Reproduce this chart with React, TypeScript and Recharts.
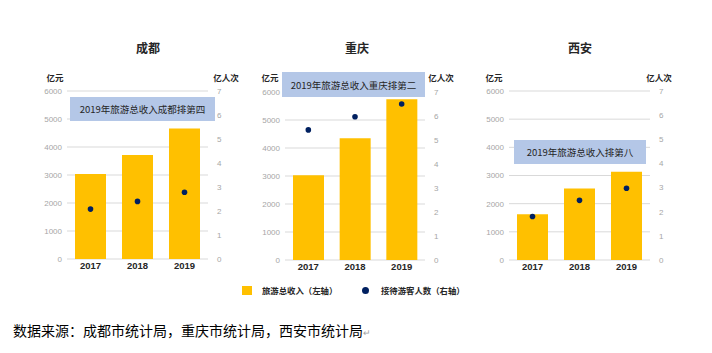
import React from 'react';
import {
  ComposedChart,
  Bar,
  Scatter,
  XAxis,
  YAxis,
  CartesianGrid,
} from 'recharts';

// years and values
const years = ['2017', '2018', '2019'];

const chengduRevenue = [3036, 3712, 4664];
const chengduVisitors = [2.08, 2.4, 2.78];

const chongqingRevenue = [3030, 4344, 5740];
const chongqingVisitors = [5.42, 5.97, 6.5];

const xianRevenue = [1625, 2540, 3130];
const xianVisitors = [1.8, 2.47, 2.97];

const leftTicks = [0, 1000, 2000, 3000, 4000, 5000, 6000];
const rightTicks = [0, 1, 2, 3, 4, 5, 6, 7];

const panels = [
  {
    title: '成都',
    note: '2019年旅游总收入成都排第四',
    revenue: chengduRevenue,
    visitors: chengduVisitors,
    plot: { x0: 67, x1: 208, y0: 91, y1: 259 },
    titleX: 148,
    leftUnitX: 55,
    rightUnitX: 226,
    box: { left: 70, top: 97, width: 145, height: 24 },
  },
  {
    title: '重庆',
    note: '2019年旅游总收入重庆排第二',
    revenue: chongqingRevenue,
    visitors: chongqingVisitors,
    plot: { x0: 285, x1: 425, y0: 92, y1: 260 },
    titleX: 357,
    leftUnitX: 270,
    rightUnitX: 441,
    box: { left: 282, top: 72, width: 143, height: 25 },
  },
  {
    title: '西安',
    note: '2019年旅游总收入排第八',
    revenue: xianRevenue,
    visitors: xianVisitors,
    plot: { x0: 509, x1: 650, y0: 91, y1: 260 },
    titleX: 580,
    leftUnitX: 494,
    rightUnitX: 659,
    box: { left: 514, top: 140, width: 132, height: 24 },
  },
];

const CJK = '"Noto Sans CJK SC", "Liberation Sans", sans-serif';
const NUM = '"Liberation Sans", Arial, sans-serif';
const BAR = '#FFC000';
const DOT = '#002060';

const CH_W = 712;
const CH_H = 300;
const AXIS_W = 40;
const XAXIS_H = 20;

function Dot(props: any) {
  if (props.cx == null || props.cy == null) return null;
  return <circle cx={props.cx} cy={props.cy} r={2.8} fill={DOT} />;
}

function Panel({ p }: { p: (typeof panels)[number] }) {
  const data = years.map((y, i) => ({
    year: y,
    revenue: p.revenue[i],
    visitors: p.visitors[i],
  }));
  const { x0, x1, y0, y1 } = p.plot;

  return (
    <ComposedChart
      width={CH_W}
      height={CH_H}
      data={data}
      style={{ position: 'absolute', left: 0, top: 0 }}
      margin={{
        top: y0,
        bottom: CH_H - y1 - XAXIS_H,
        left: x0 - AXIS_W,
        right: CH_W - x1 - AXIS_W,
      }}
    >
      <CartesianGrid
        yAxisId="left"
        vertical={false}
        stroke="#d9d9d9"
        strokeWidth={1}
      />
      <XAxis
        dataKey="year"
        height={XAXIS_H}
        axisLine={false}
        tickLine={false}
        tickSize={1}
        tickMargin={2}
        tick={{ fontSize: 9.5, fill: '#262626', fontFamily: NUM, fontWeight: 600 }}
      />
      <YAxis
        yAxisId="left"
        width={AXIS_W}
        domain={[0, 6000]}
        ticks={leftTicks}
        axisLine={false}
        tickLine={false}
        tickSize={3}
        tickMargin={2}
        tick={{ fontSize: 8, fill: '#a6a6a6', fontFamily: NUM }}
      />
      <YAxis
        yAxisId="right"
        orientation="right"
        width={AXIS_W}
        domain={[0, 7]}
        ticks={rightTicks}
        axisLine={false}
        tickLine={false}
        tickSize={7}
        tickMargin={2}
        tick={{ fontSize: 8, fill: '#a6a6a6', fontFamily: NUM }}
      />
      <Bar
        yAxisId="left"
        dataKey="revenue"
        fill={BAR}
        barSize={31}
        isAnimationActive={false}
      />
      <Scatter
        yAxisId="right"
        dataKey="visitors"
        fill={DOT}
        shape={<Dot />}
        isAnimationActive={false}
      />
    </ComposedChart>
  );
}

const centered = (x: number, y: number): React.CSSProperties => ({
  position: 'absolute',
  left: x,
  top: y,
  transform: 'translate(-50%, -50%)',
  whiteSpace: 'nowrap',
});

export default function App() {
  return (
    <div
      style={{
        position: 'absolute',
        left: 0,
        top: 0,
        width: 712,
        height: 353,
        background: '#fff',
        overflow: 'hidden',
        fontFamily: CJK,
      }}
    >
      {panels.map((p) => (
        <Panel key={p.title} p={p} />
      ))}

      {panels.map((p) => (
        <React.Fragment key={p.title + '-text'}>
          <div style={{ ...centered(p.titleX, 47), fontSize: 12, fontWeight: 700, color: '#262626' }}>
            {p.title}
          </div>
          <div style={{ ...centered(p.leftUnitX, 77), fontSize: 8.5, fontWeight: 700, color: '#262626' }}>
            亿元
          </div>
          <div style={{ ...centered(p.rightUnitX, 77), fontSize: 8.5, fontWeight: 700, color: '#262626' }}>
            亿人次
          </div>
          <div
            style={{
              position: 'absolute',
              left: p.box.left,
              top: p.box.top,
              width: p.box.width,
              height: p.box.height,
              background: '#B4C7E7',
              display: 'flex',
              alignItems: 'center',
              justifyContent: 'center',
              fontSize: 9.5,
              color: '#262626',
              whiteSpace: 'nowrap',
            }}
          >
            {p.note}
          </div>
        </React.Fragment>
      ))}

      {/* legend */}
      <div style={{ position: 'absolute', left: 242, top: 286, width: 10, height: 9, background: BAR }} />
      <div style={{ position: 'absolute', left: 262, top: 284, fontSize: 8.4, fontWeight: 700, color: '#262626', lineHeight: '12px', whiteSpace: 'nowrap' }}>
        旅游总收入（左轴）
      </div>
      <div style={{ position: 'absolute', left: 362, top: 287, width: 7, height: 7, borderRadius: '50%', background: DOT }} />
      <div style={{ position: 'absolute', left: 381, top: 284, fontSize: 8.4, fontWeight: 700, color: '#262626', lineHeight: '12px', whiteSpace: 'nowrap' }}>
        接待游客人数（右轴）
      </div>

      {/* source note */}
      <div style={{ position: 'absolute', left: 13, top: 322, fontSize: 14, lineHeight: '16px', color: '#000', whiteSpace: 'nowrap' }}>
        数据来源：成都市统计局，重庆市统计局，西安市统计局
        <span style={{ color: '#a0a0a0', fontSize: 9 }}>↵</span>
      </div>
    </div>
  );
}
